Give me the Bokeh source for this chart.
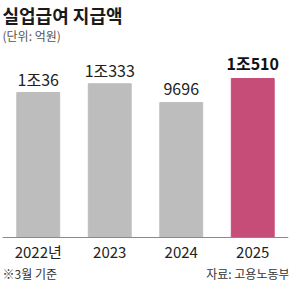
from bokeh.plotting import figure
from bokeh.models import ColumnDataSource, Label, Range1d, FactorRange
from bokeh.embed import file_html
from bokeh.resources import INLINE

categories = ["2022년", "2023", "2024", "2025"]
values = [10036, 10333, 9696, 10510]
value_labels = ["1조36", "1조333", "9696", "1조510"]
colors = ["#bdbdbd", "#bdbdbd", "#bdbdbd", "#c64d77"]
title_text = "실업급여 지급액"
unit_text = "(단위: 억원)"
note_text = "※3월 기준"
source_text = "자료: 고용노동부"

Y_BASE = 5130      # value at the baseline
Y_TOP = 13150      # value at top of canvas
FONT = "Noto Sans CJK KR"

W, H = 300, 289
BASE_PX = 237      # baseline pixel from top
y_start = Y_BASE - (Y_TOP - Y_BASE) * (H - BASE_PX) / BASE_PX

p = figure(width=W, height=H, x_range=FactorRange(*categories, range_padding=0),
           y_range=Range1d(y_start, Y_TOP), output_backend="svg", toolbar_location=None,
           min_border_left=2, min_border_right=12, min_border_top=0, min_border_bottom=0)
p.outline_line_color = None
p.grid.grid_line_color = None
p.yaxis.visible = False
p.background_fill_color = "white"
p.border_fill_color = "white"

src = ColumnDataSource(dict(x=categories, top=values, color=colors, label=value_labels,
                            bottom=[Y_BASE] * len(values)))
p.vbar(x="x", top="top", bottom="bottom", width=0.6, color="color", source=src)

normal = ColumnDataSource(dict(x=categories[:3], y=values[:3], t=value_labels[:3]))
hl = ColumnDataSource(dict(x=categories[3:], y=values[3:], t=value_labels[3:]))
p.text(x="x", y="y", text="t", source=normal, text_align="center", text_baseline="middle",
       y_offset=-14, text_font_size="16px", text_color="#222222", text_font={"value": FONT})
p.text(x="x", y="y", text="t", source=hl, text_align="center", text_baseline="middle",
       y_offset=-16, text_font_size="16px", text_font_style="bold", text_color="#111111",
       text_font={"value": FONT})

xa = p.xaxis[0]
xa.fixed_location = Y_BASE
xa.axis_line_color = "#8a8a8a"
xa.axis_line_width = 1
xa.major_tick_line_color = None
xa.minor_tick_line_color = None
xa.major_label_text_font = FONT
xa.major_label_text_font_size = "15px"
xa.major_label_text_color = "#222222"
xa.major_label_standoff = -3

p.add_layout(Label(x=0, y=H - 1, x_units="screen", y_units="screen", text=title_text,
                   text_font=FONT, text_font_size="18px", text_font_style="bold",
                   text_color="#1a1a1a", text_baseline="top"))
p.add_layout(Label(x=0, y=H - 26, x_units="screen", y_units="screen", text=unit_text,
                   text_font=FONT, text_font_size="12px", text_color="#555555", text_baseline="top"))
p.add_layout(Label(x=0, y=16, x_units="screen", y_units="screen", text=note_text,
                   text_font=FONT, text_font_size="12px", text_color="#333333", text_baseline="middle"))
p.add_layout(Label(x=287, y=16, x_units="screen", y_units="screen", text=source_text,
                   text_font=FONT, text_font_size="12px", text_color="#333333", text_baseline="middle",
                   text_align="right"))

open("out.html", "w").write(file_html(p, INLINE))
